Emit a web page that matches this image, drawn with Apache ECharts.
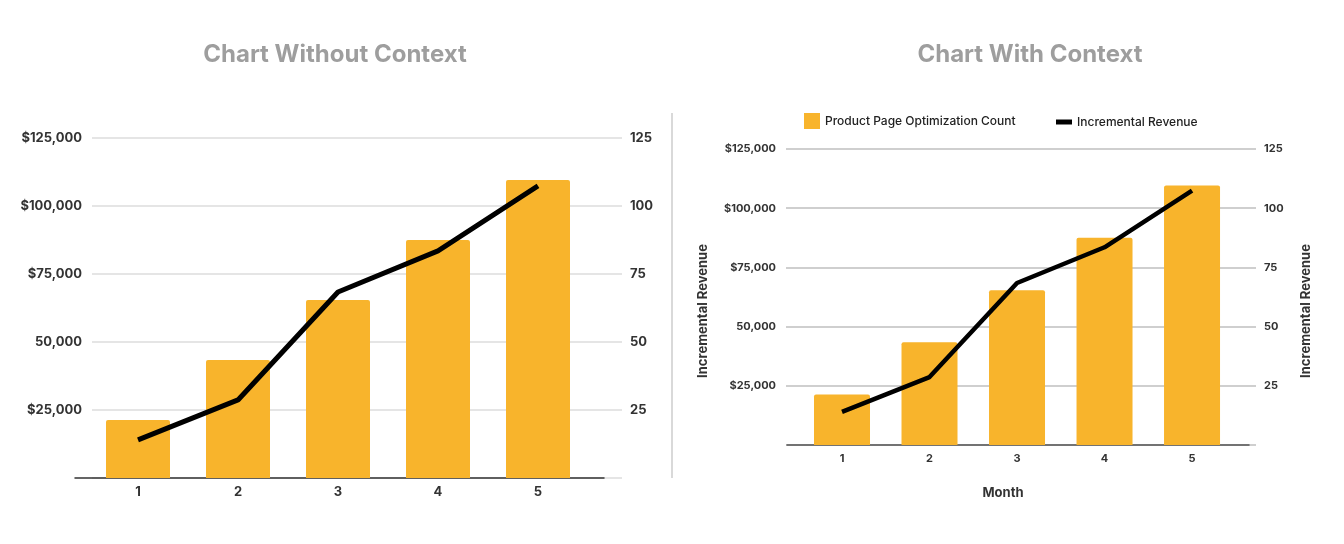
<!DOCTYPE html>
<html>
<head>
<meta charset="utf-8">
<script src="https://cdn.jsdelivr.net/npm/echarts@6/dist/echarts.min.js"></script>
<style>
  html, body { margin: 0; padding: 0; background: #fff; }
  #chart { width: 1344px; height: 544px; }
</style>
</head>
<body>
<div id="chart"></div>
<script>
// data
var months = [1, 2, 3, 4, 5];
var optimizationCount = [21.3, 43.4, 65.4, 87.5, 109.6];
var incrementalRevenue = [14000, 28700, 68400, 83500, 107400];
var revenueTicks = ['', '$25,000', '50,000', '$75,000', '$100,000', '$125,000'];
var countTicks = ['', '25', '50', '75', '100', '125'];

var FONT = 'Inter';
var BAR = '#F8B42C';

function pairs(ys) {
    return months.map(function (m, i) { return [m, ys[i]]; });
}
function revenueLabel(v) { return revenueTicks[Math.round(v / 25000)]; }
function countLabel(v) { return countTicks[Math.round(v / 25)]; }

function yLeft(grid, size, splitColor, splitWidth, extra) {
    var o = {
        type: 'value', gridIndex: grid, position: 'left',
        min: 0, max: 125000, interval: 25000,
        axisLine: { show: false }, axisTick: { show: false },
        axisLabel: { formatter: revenueLabel, margin: 10, color: '#333', fontFamily: FONT, fontWeight: 'bold', fontSize: size },
        splitLine: { lineStyle: { color: splitColor, width: splitWidth } }
    };
    return Object.assign(o, extra || {});
}
function yRight(grid, size, extra) {
    var o = {
        type: 'value', gridIndex: grid, position: 'right',
        min: 0, max: 125, interval: 25,
        axisLine: { show: false }, axisTick: { show: false },
        axisLabel: { formatter: countLabel, margin: 8, color: '#333', fontFamily: FONT, fontWeight: 'bold', fontSize: size },
        splitLine: { show: false }
    };
    return Object.assign(o, extra || {});
}

var chart = echarts.init(document.getElementById('chart'));
chart.setOption({
    animation: false,
    textStyle: { fontFamily: FONT },
    title: [
        { text: 'Chart Without Context', left: 330, top: 38, textAlign: 'center',
          textStyle: { color: '#9e9e9e', fontSize: 24, fontWeight: 'bold', fontFamily: FONT } },
        { text: 'Chart With Context', left: 1025, top: 38, textAlign: 'center',
          textStyle: { color: '#9e9e9e', fontSize: 24, fontWeight: 'bold', fontFamily: FONT } }
    ],
    legend: [
        { left: 799, top: 108, itemWidth: 16, itemHeight: 16, data: [{ name: 'Product Page Optimization Count', icon: 'rect' }],
          textStyle: { color: '#222', fontSize: 12, fontWeight: 500, fontFamily: FONT } },
        { left: 1051, top: 111, itemWidth: 16, itemHeight: 16, data: [{ name: 'Incremental Revenue', icon: 'path://M0,0H16V5H0Z' }],
          textStyle: { color: '#222', fontSize: 12, fontWeight: 500, fontFamily: FONT } }
    ],
    grid: [
        { left: 92, top: 138, width: 530, height: 340 },   // left chart, gridlines
        { left: 75, top: 138, width: 529, height: 340 },   // left chart, base line
        { left: 786, top: 149, width: 470, height: 296 },  // right chart, gridlines
        { left: 787, top: 149, width: 462, height: 296 }   // right chart, base line
    ],
    xAxis: [
        { type: 'value', gridIndex: 0, min: 0.54, max: 5.84, show: false },
        { type: 'value', gridIndex: 1, min: 0.37, max: 5.66, splitLine: { show: false },
          axisLine: { lineStyle: { color: '#333', width: 1.5 } }, axisTick: { show: false },
          axisLabel: { customValues: months, margin: 8, color: '#333', fontFamily: FONT, fontWeight: 'bold', fontSize: 13 } },
        { type: 'value', gridIndex: 2, min: 0.36, max: 5.731, show: false },
        { type: 'value', gridIndex: 3, min: 0.3714, max: 5.6514, splitLine: { show: false },
          axisLine: { lineStyle: { color: '#555', width: 1.5 } }, axisTick: { show: false },
          axisLabel: { customValues: months, margin: 8, color: '#333', fontFamily: FONT, fontWeight: 'bold', fontSize: 11 },
          name: 'Month', nameLocation: 'middle', nameGap: 42,
          nameTextStyle: { color: '#333', fontFamily: FONT, fontWeight: 'bold', fontSize: 13, padding: [0, 30, 0, 0] } }
    ],
    yAxis: [
        yLeft(0, 13, '#dcdcdc', 1.5),
        yRight(0, 13),
        { type: 'value', gridIndex: 1, min: 0, max: 1, show: false },
        yLeft(2, 11, '#cfcfcf', 2, {
            name: 'Incremental Revenue', nameLocation: 'middle', nameGap: 76, nameRotate: 90,
            nameTextStyle: { color: '#333', fontFamily: FONT, fontWeight: 'bold', fontSize: 13, padding: [0, 28, 0, 0] }
        }),
        yRight(2, 11, {
            name: 'Incremental Revenue', nameLocation: 'middle', nameGap: 44, nameRotate: 90,
            nameTextStyle: { color: '#333', fontFamily: FONT, fontWeight: 'bold', fontSize: 13, padding: [0, 28, 0, 0] }
        }),
        { type: 'value', gridIndex: 3, min: 0, max: 1, show: false }
    ],
    graphic: [
        { type: 'line', shape: { x1: 672, y1: 113, x2: 672, y2: 478 }, style: { stroke: '#cccccc', lineWidth: 1.5 } }
    ],
    series: [
        { name: 'Product Page Optimization Count', type: 'bar', xAxisIndex: 0, yAxisIndex: 1,
          barWidth: 64, data: pairs(optimizationCount),
          itemStyle: { color: BAR, borderRadius: [2, 2, 0, 0] } },
        { name: 'Incremental Revenue', type: 'line', xAxisIndex: 0, yAxisIndex: 0,
          data: pairs(incrementalRevenue), symbol: 'none', color: '#000',
          lineStyle: { color: '#000', width: 5 } },
        { name: 'Product Page Optimization Count', type: 'bar', xAxisIndex: 2, yAxisIndex: 4,
          barWidth: 56, data: pairs(optimizationCount),
          itemStyle: { color: BAR, borderRadius: [2, 2, 0, 0] } },
        { name: 'Incremental Revenue', type: 'line', xAxisIndex: 2, yAxisIndex: 3,
          data: pairs(incrementalRevenue), symbol: 'none', color: '#000',
          lineStyle: { color: '#000', width: 4.5 } }
    ]
});
</script>
</body>
</html>
